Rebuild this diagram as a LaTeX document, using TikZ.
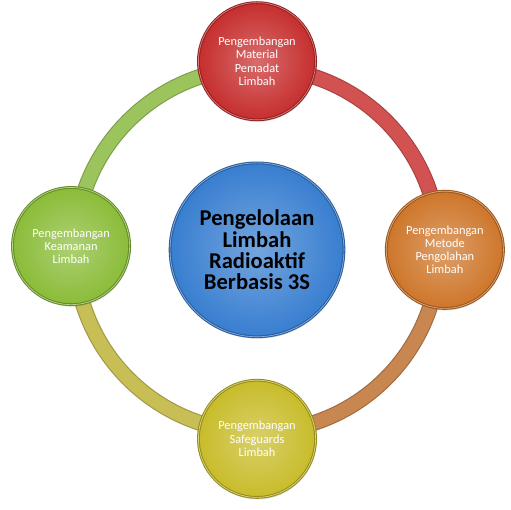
\documentclass[tikz,border=0pt]{standalone}
\usepackage{fontspec}
\setmainfont{Carlito}
\usetikzlibrary{shadows}

\definecolor{ptred}{RGB}{198,46,46}
\definecolor{ptorange}{RGB}{206,118,42}
\definecolor{ptyellow}{RGB}{200,188,42}
\definecolor{ptgreen}{RGB}{138,188,56}
\definecolor{ptblue}{RGB}{56,126,208}
\definecolor{ringred}{RGB}{210,82,82}
\definecolor{ringorange}{RGB}{200,134,80}
\definecolor{ringyellow}{RGB}{200,190,86}
\definecolor{ringgreen}{RGB}{156,196,92}

\begin{document}
\begin{tikzpicture}[
	ball/.style={circle,inner sep=0,outer sep=0,align=center,minimum size=3.1cm,text=white,
		font=\fontsize{9.3}{10}\selectfont,draw=#1!75!black,line width=0.8pt,double=#1!60!white,double distance=0.5pt,
		inner color=#1!70!white,outer color=#1,drop shadow={opacity=0.25,shadow xshift=0.5pt,shadow yshift=-1.5pt}},
	ring/.style={line width=0.42cm,draw=#1!80!black,postaction={draw=#1,line width=0.36cm}}
]
	\useasboundingbox (-6.80,-6.88) rectangle (6.72,6.61);
	% ring segments
	\draw[ring=ringred] (90:4.82) arc[start angle=90,end angle=0,radius=4.82];
	\draw[ring=ringorange] (0:4.82) arc[start angle=0,end angle=-90,radius=4.82];
	\draw[ring=ringyellow] (-90:4.82) arc[start angle=-90,end angle=-180,radius=4.82];
	\draw[ring=ringgreen] (180:4.82) arc[start angle=180,end angle=90,radius=4.82];
	% outer circles
	\node[ball=ptred] (1) at (0,4.99) {Pengembangan\\Material\\Pemadat\\Limbah};
	\node[ball=ptorange] (2) at (4.97,0) {Pengembangan\\Metode\\Pengolahan\\Limbah};
	\node[ball=ptyellow] (3) at (0,-5.0) {Pengembangan\\Safeguards\\Limbah};
	\node[ball=ptgreen] (4) at (-4.92,0.1) {Pengembangan\\Keamanan\\Limbah};
	% center
	\node[ball=ptblue,minimum size=4.6cm,text=black,font=\bfseries\fontsize{17}{16}\selectfont] (0) at (0,0) {Pengelolaan\\Limbah\\Radioaktif\\Berbasis 3S};
\end{tikzpicture}
\end{document}
